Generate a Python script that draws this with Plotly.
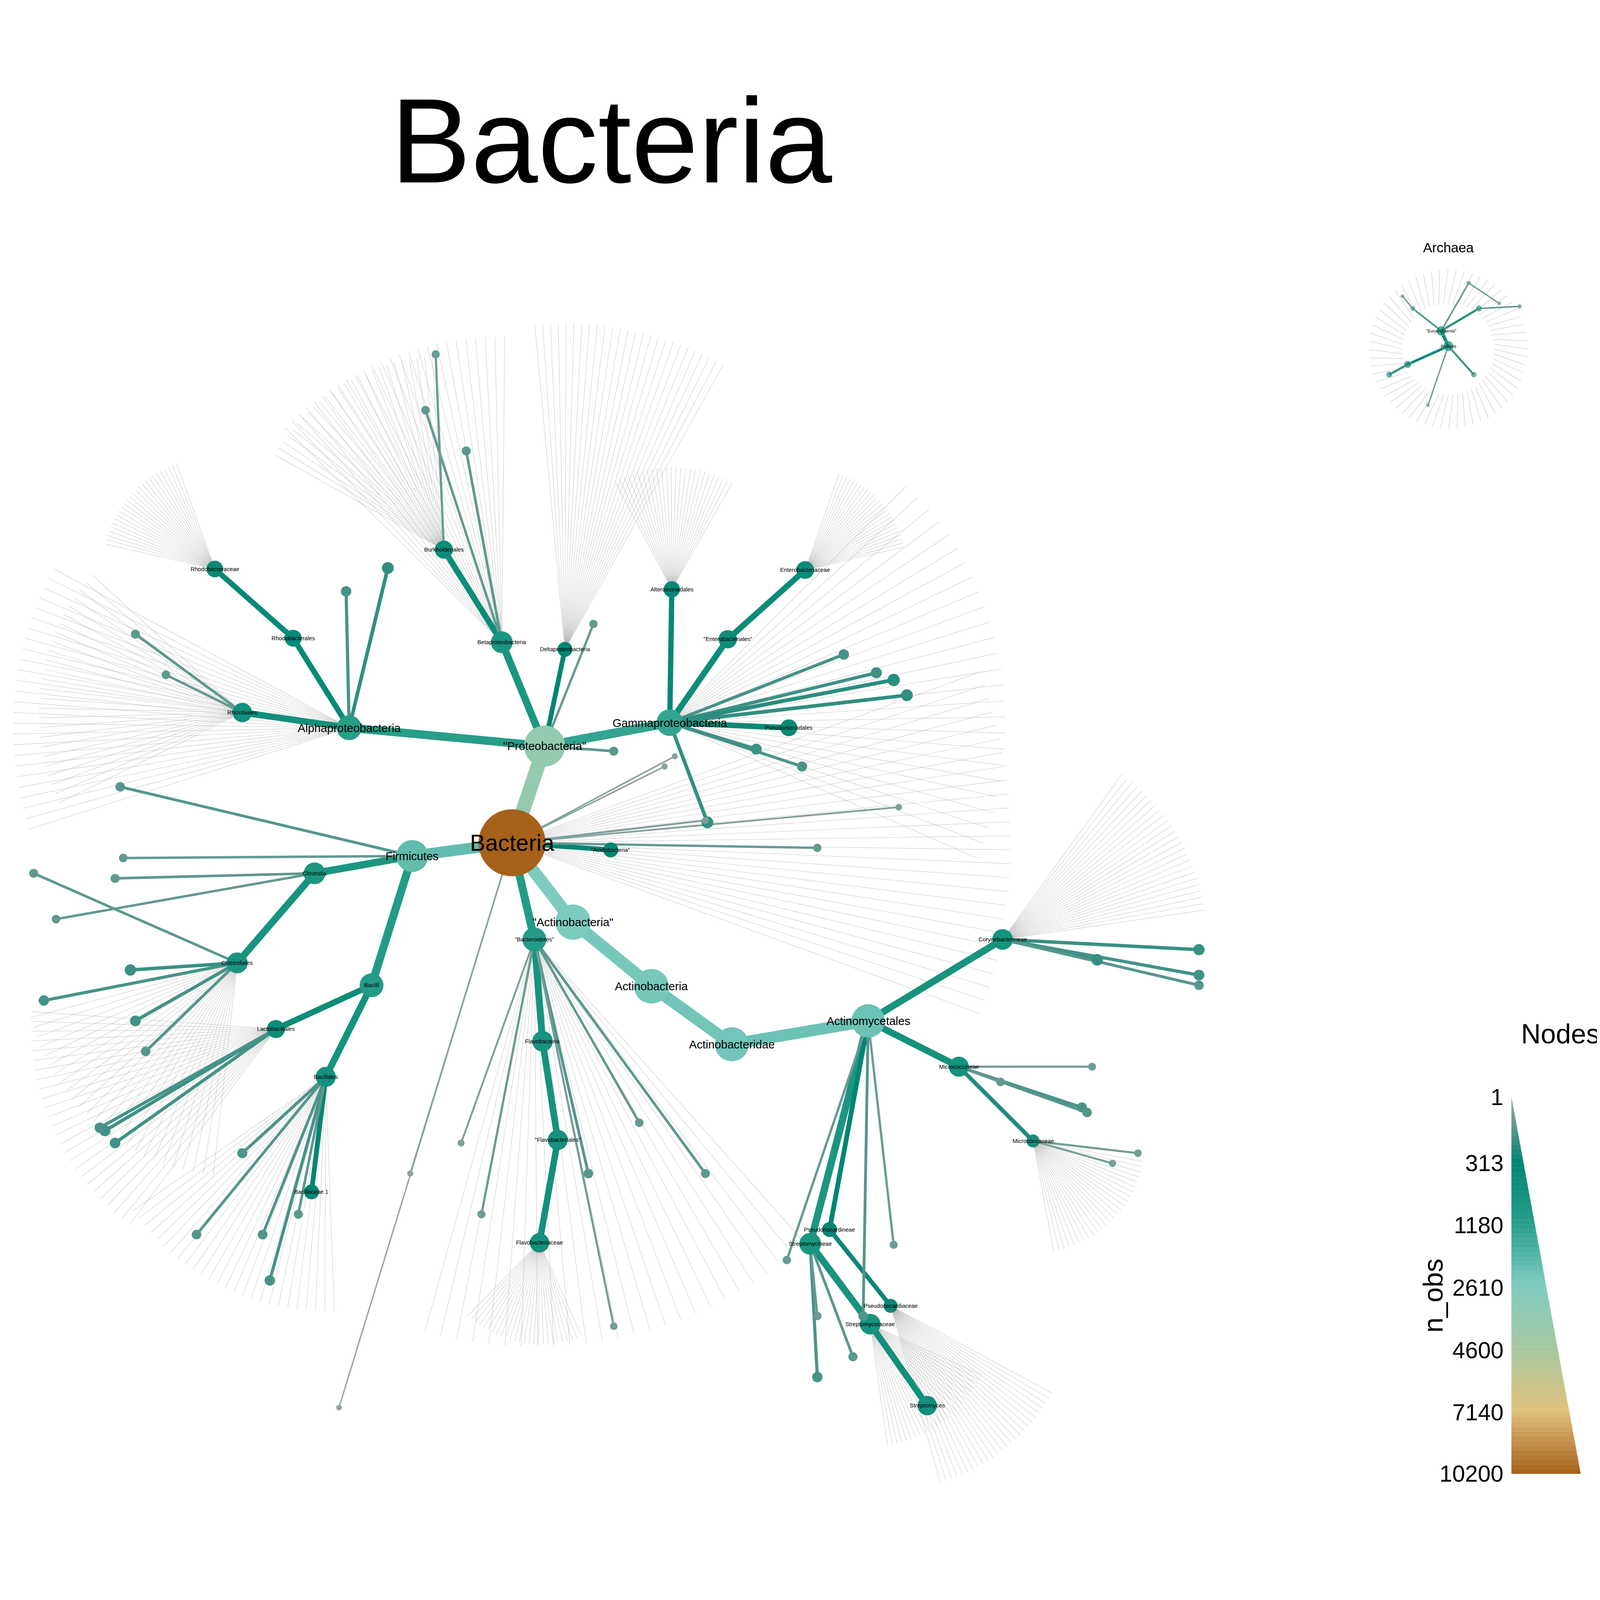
import plotly.graph_objects as go
import numpy as np

S = 4200/1568.0
R = 1612
node_id = ["root","prot","alpha","gamma","beta","delta","burk","rhodo","rhodoc","rhiz","entb","entc","alter","pseu",
 "firm","clos","closl","baci","lact","bacl","bacc","actp","actc","actd","actm","cory","micn","micc","strn","strc","strm","psn","psc",
 "bact","flav","flavl","flavc","acid",
 "a1","a2","a3","a4","g1","g2","g3","g4","g5","g6","g7","b1","b2","b3","d1","d2","f1","f2","f3","c1","c2","c3","c4","c5","c6",
 "l1","l2","l3","l4","h1","h2","h3","h4","m1","m2","m3","m4","m5","m6","k1","k2","k3","s1","s2","s3","x1","x2","x3","x4","e1","e2","e3","e4","e5","e6","p1","p2","p3","q1","q2","q3","q4"]
parent = ["","root","prot","prot","prot","prot","beta","alpha","rhodo","alpha","gamma","entb","gamma","gamma",
 "root","firm","clos","firm","baci","baci","bacl","root","actp","actc","actd","actm","actm","micn","actm","strn","strc","actm","psn",
 "root","bact","flav","flavl","root",
 "alpha","alpha","rhiz","rhiz","gamma","gamma","gamma","gamma","gamma","gamma","gamma","beta","beta","burk","prot","prot","firm","firm","clos","closl","closl","closl","closl","closl","clos",
 "lact","lact","lact","bacl","bacl","bacl","bacl","bacl","bact","bact","bact","bact","bact","bact","root","root","root","actm","actm","actm","cory","cory","cory","cory","micc","micc","micn","micn","micn","micn","strn","strn","strn","root","root","root","root"]
label = ["Bacteria","\"Proteobacteria\"","Alphaproteobacteria","Gammaproteobacteria","Betaproteobacteria","Deltaproteobacteria","Burkholderiales","Rhodobacterales","Rhodobacteraceae","Rhizobiales","\"Enterobacteriales\"","Enterobacteriaceae","Alteromonadales","Pseudomonadales",
 "Firmicutes","Clostridia","Clostridiales","Bacilli","Lactobacillales","Bacillales","Bacillaceae 1","\"Actinobacteria\"","Actinobacteria","Actinobacteridae","Actinomycetales","Corynebacterineae","Micrococcineae","Micrococcaceae","Streptomycineae","Streptomycetaceae","Streptomyces","Pseudonocardineae","Pseudonocardiaceae",
 "\"Bacteroidetes\"","Flavobacteria","\"Flavobacteriales\"","Flavobacteriaceae","\"Acidobacteria\""] + [""]*62
n_obs = [10200,3500,1100,1300,800,300,500,420,400,600,520,480,380,420,
 2000,800,720,1000,500,650,300,2500,2400,2300,2200,700,650,200,800,700,600,300,250,
 1000,700,650,600,300,
 100,150,60,50,150,100,120,170,150,90,120,60,50,40,60,45,75,50,60,100,130,110,75,60,50,
 120,110,100,75,90,80,100,60,20,75,50,60,30,40,20,15,45,45,75,40,140,130,110,75,30,25,90,75,50,35,100,65,45,10,10,5,10]
xs = [500,532,340,655,490,552,433,285,208,235,712,788,657,772,
 402,306,230,362,268,317,303,560,637,716,850,982,939,1012,793,852,908,812,872,
 522,530,545,527,597,
 337,378,130,160,692,826,858,875,888,785,740,455,415,425,600,580,115,118,110,40,125,130,140,30,52,
 100,110,95,190,235,255,262,290,450,575,625,690,600,470,690,880,800,770,845,875,1075,1175,1175,1175,1115,1090,1060,1065,980,1070,800,835,800,650,660,330,400]
ys = [825,730,712,707,628,635,537,624,556,697,625,557,576,712,
 838,855,943,965,1008,1055,1168,903,966,1023,1000,920,1045,1118,1219,1298,1378,1205,1280,
 920,1020,1117,1218,832,
 578,555,620,660,805,640,658,665,680,750,733,440,400,345,735,610,770,840,860,980,950,1000,1030,855,900,
 1108,1120,1105,1210,1130,1210,1255,1190,1120,1150,1100,1150,1300,1190,803,790,830,1235,1290,1220,940,930,955,965,1130,1140,1085,1090,1060,1045,1350,1330,1290,750,740,1380,1150]
N = len(node_id)
parent, label, n_obs, xs, ys = [a[:N] for a in (parent, label, n_obs, xs, ys)]

t_ticks = [1,313,1180,2610,4600,7140,10200]
scale_colors = ["#a8a8a8","#018571","#2aa08a","#80cdc1","#a8c8a0","#dfc27d","#a6611a"]
stops = [0,0.17,0.34,0.5,0.67,0.83,1.0]

def col(n):
    t = min(1.0, np.sqrt(max(n-1,0)/(10200-1)))
    rgb = [tuple(int(c[i:i+2],16) for i in (1,3,5)) for c in scale_colors]
    for i in range(len(stops)-1):
        if t <= stops[i+1]:
            f = (t-stops[i])/(stops[i+1]-stops[i])
            a, b = rgb[i], rgb[i+1]
            return "rgb(%d,%d,%d)" % tuple(a[k]+(b[k]-a[k])*f for k in range(3))
    return scale_colors[-1]

idx = {k:i for i,k in enumerate(node_id)}
fig = go.Figure()
fan_from = ["rhodoc","burk","entc","alter","closl","bacl","flavc","strc","micc","cory","bact","root","lact","rhiz","alpha","gamma","delta","beta","psc"]
fan_len = [110,190,100,120,210,230,100,120,110,200,400,490,240,200,330,330,320,300,180]
fan_spread = [0.5,0.5,0.5,0.5,0.6,0.5,0.6,0.5,0.6,0.4,0.5,0.35,0.5,0.6,0.4,0.6,0.3,0.4,0.4]
for k,L,sp in zip(fan_from,fan_len,fan_spread):
    i = idx[k]
    pid = parent[i]
    if pid:
        j = idx[pid]; base = np.arctan2(ys[i]-ys[j], xs[i]-xs[j])
    else:
        base = 0.0
    xl=[];yl=[]
    for a in np.linspace(-sp,sp,26):
        xl += [xs[i], xs[i]+L*np.cos(base+a), None]
        yl += [ys[i], ys[i]+L*np.sin(base+a), None]
    fig.add_trace(go.Scatter(x=xl,y=yl,mode="lines",line=dict(color="rgba(160,160,160,0.45)",width=0.5*S),hoverinfo="skip",showlegend=False))
for i,p in enumerate(parent):
    if not p: continue
    j = idx[p]
    w = (0.8+22*np.sqrt(n_obs[i]/10200))*S
    fig.add_trace(go.Scatter(x=[xs[j],xs[i]], y=[ys[j],ys[i]], mode="lines",
        line=dict(color=col(n_obs[i]), width=w), hoverinfo="skip", showlegend=False))

sizes = [(4+60*np.sqrt(n/10200))*S for n in n_obs]
fig.add_trace(go.Scatter(x=xs, y=ys, mode="markers", marker=dict(size=sizes, color=[col(n) for n in n_obs], opacity=1, line=dict(width=0)),
    hoverinfo="skip", showlegend=False))
tsz = [(22 if n>5000 else 11 if n>1000 else 5.5)*S for n in n_obs]
for i,l in enumerate(label):
    if l:
        fig.add_annotation(x=xs[i], y=ys[i], text=l, showarrow=False, font=dict(size=tsz[i], color="black", family="Liberation Sans"))

# Archaea inset
ar_id = ["ar","eur","e1","e2","e3","e4","e5","e6","e7","e8","e9","e10"]
ar_par = ["","ar","eur","eur","eur","ar","ar","e4","e3","ar","e1","e2"]
ar_n = [300,250,80,40,30,120,60,80,20,20,30,20]
ar_x = [1420,1413,1450,1385,1440,1380,1445,1362,1470,1400,1490,1375]
ar_y = [337,322,300,300,275,355,365,365,295,395,298,288]
aidx = {k:i for i,k in enumerate(ar_id)}
fig.add_shape(type="circle", x0=1342, x1=1498, y0=262, y1=418, line=dict(width=0), fillcolor="rgba(0,0,0,0)")
for i,p in enumerate(ar_par):
    if p:
        j=aidx[p]
        fig.add_trace(go.Scatter(x=[ar_x[j],ar_x[i]],y=[ar_y[j],ar_y[i]],mode="lines",line=dict(color=col(ar_n[i]*2),width=(0.5+3*np.sqrt(ar_n[i]/300))*S),hoverinfo="skip",showlegend=False))
xl=[];yl=[]
for a in np.linspace(0,2*np.pi,60,endpoint=False):
    xl += [1420+45*np.cos(a),1420+78*np.cos(a+0.1),None]; yl += [340+45*np.sin(a),340+78*np.sin(a+0.1),None]
fig.add_trace(go.Scatter(x=xl,y=yl,mode="lines",line=dict(color="rgba(160,160,160,0.5)",width=0.5*S),hoverinfo="skip",showlegend=False))
fig.add_trace(go.Scatter(x=ar_x,y=ar_y,mode="markers",marker=dict(size=[(2+8*np.sqrt(n/300))*S for n in ar_n],color=[col(n*2) for n in ar_n]),hoverinfo="skip",showlegend=False))
fig.add_annotation(x=1420,y=240,text="Archaea",showarrow=False,font=dict(size=13*S))
fig.add_annotation(x=1413,y=322,text="\"Euryarchaeota\"",showarrow=False,font=dict(size=4*S))
fig.add_annotation(x=1420,y=337,text="Archaea",showarrow=False,font=dict(size=4*S))

# legend wedge
ytop, ybot = 1075, 1445
for k in range(80):
    f0, f1 = k/80, (k+1)/80
    y0, y1 = ytop+(ybot-ytop)*f0, ytop+(ybot-ytop)*f1
    nn = 1+(10200-1)*((f0+f1)/2)**2
    fig.add_trace(go.Scatter(x=[1482,1482+68*f0,1482+68*f1,1482,1482], y=[y0,y0,y1,y1,y0], fill="toself", mode="lines",
        line=dict(width=0.3, color=col(nn)), fillcolor=col(nn), hoverinfo="skip", showlegend=False))
for v in t_ticks:
    yy = ytop+(ybot-ytop)*np.sqrt((v-1)/(10200-1))
    fig.add_annotation(x=1475,y=yy,text=str(v),showarrow=False,xanchor="right",font=dict(size=22*S))
fig.add_annotation(x=1530,y=1013,text="Nodes",showarrow=False,font=dict(size=26*S))
fig.add_annotation(x=1405,y=1270,text="n_obs",textangle=-90,showarrow=False,font=dict(size=26*S))
fig.add_annotation(x=598,y=135,text="Bacteria",showarrow=False,font=dict(size=115*S))

fig.update_layout(width=4200,height=4200,margin=dict(l=0,r=0,t=0,b=0),plot_bgcolor="white",paper_bgcolor="white",
    font=dict(family="Liberation Sans", color="black"),
    xaxis=dict(range=[0,R],visible=False),yaxis=dict(range=[R,0],visible=False))
fig.write_html("out.html")
